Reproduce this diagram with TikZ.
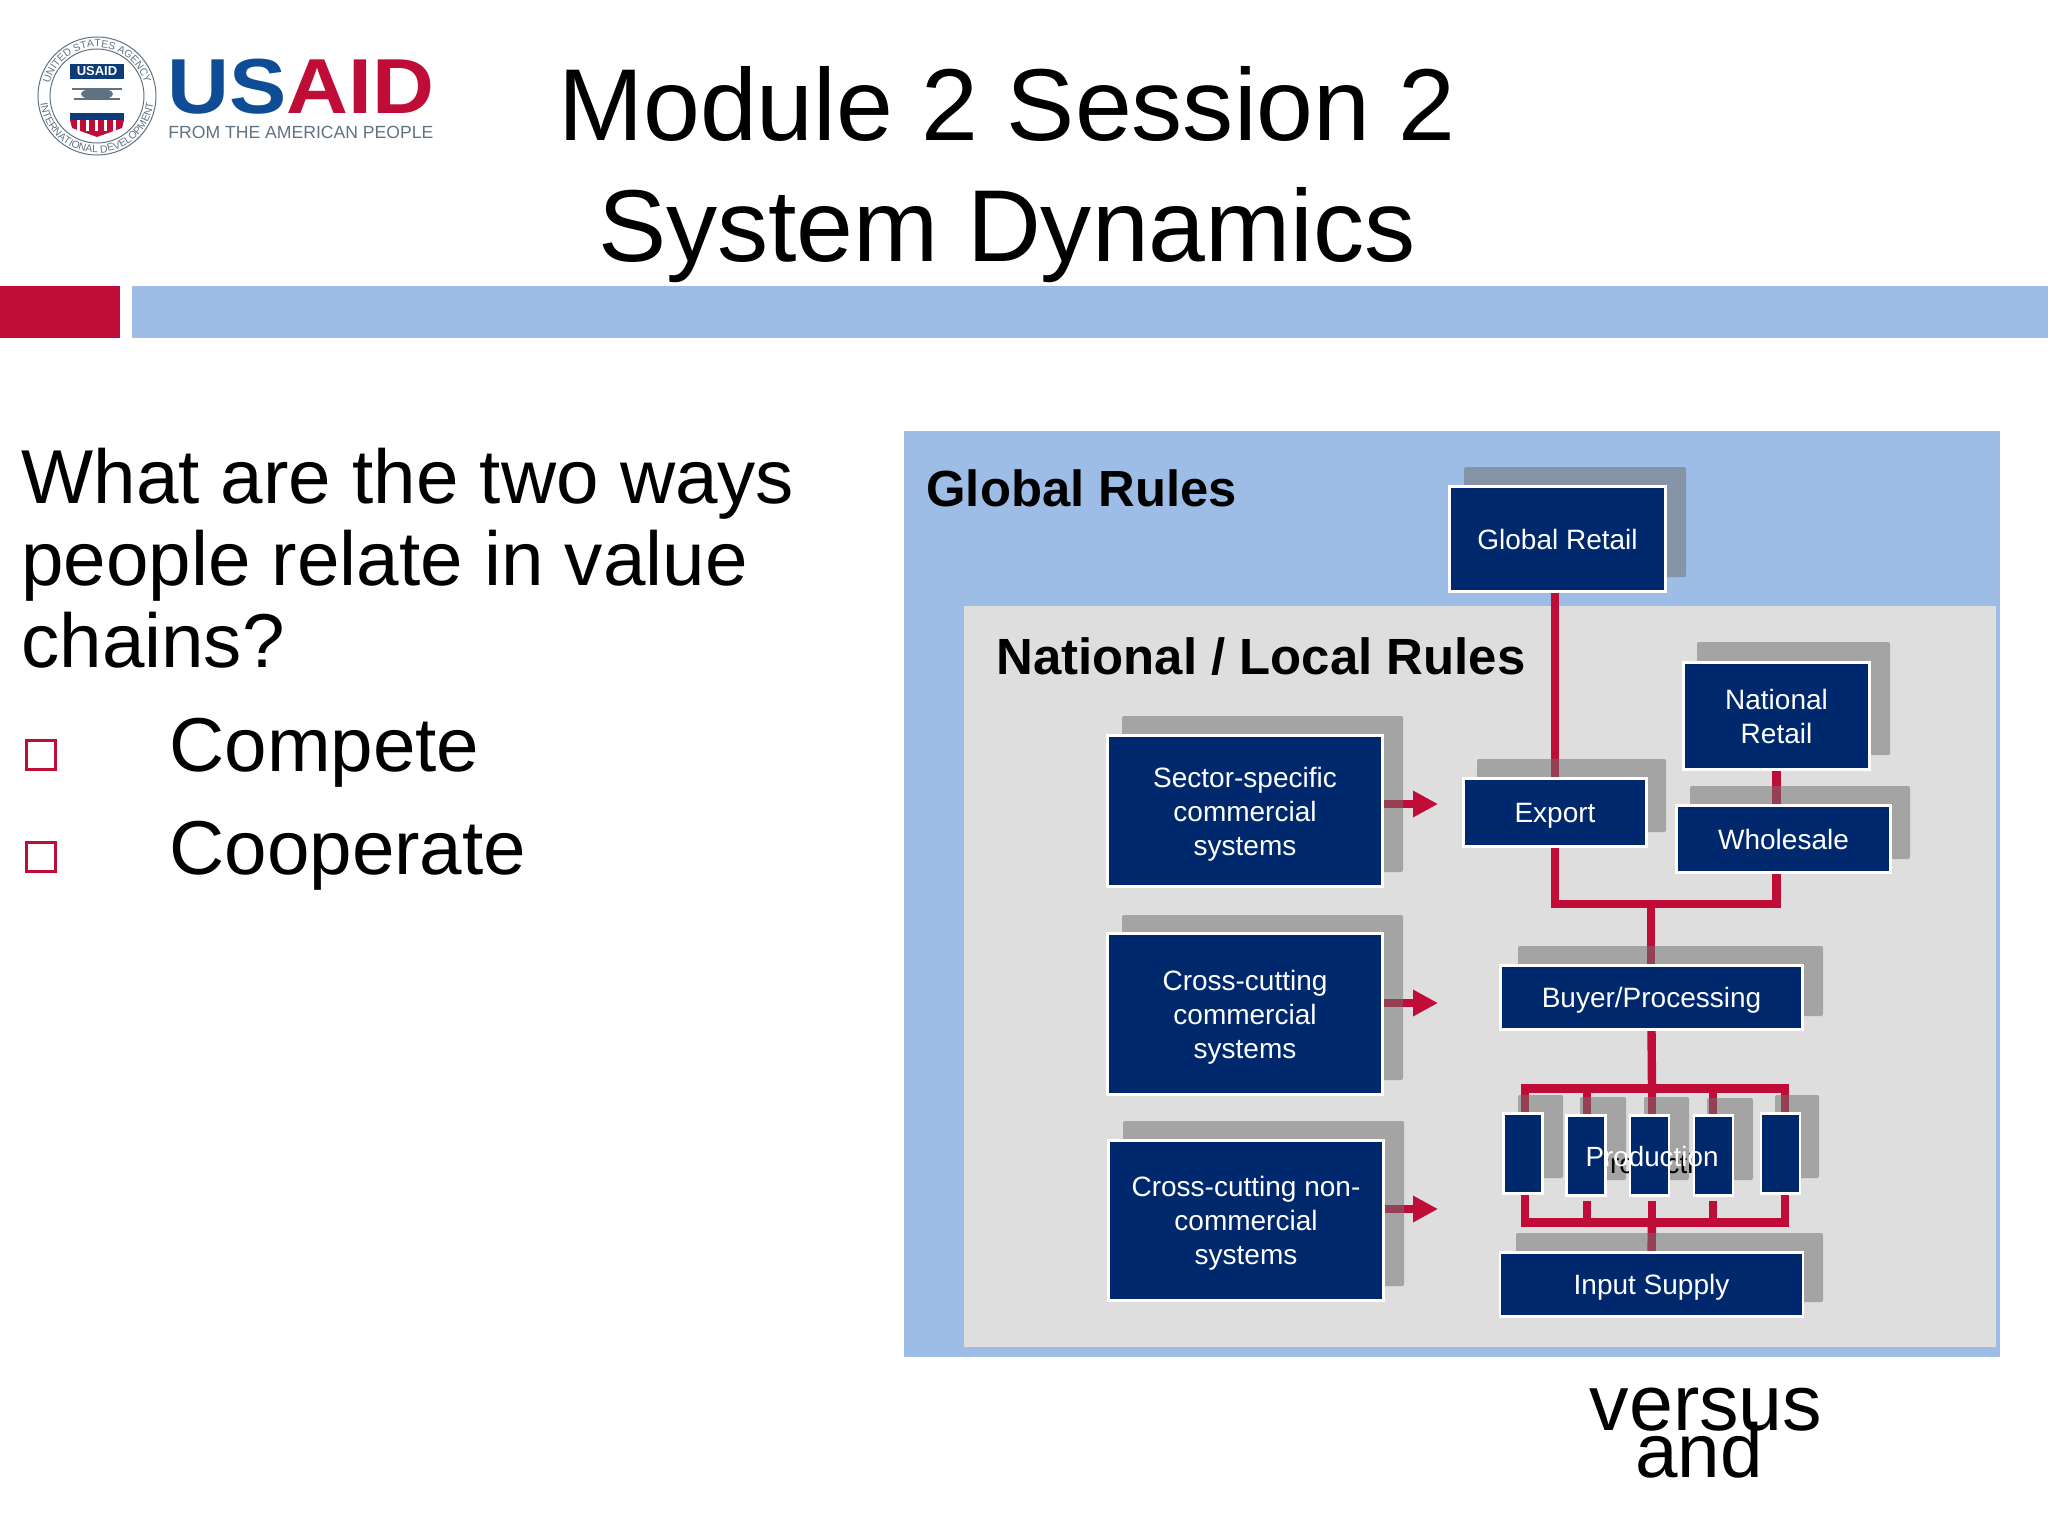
\documentclass[tikz,border=0pt]{standalone}
\usepackage{fontspec}
\setmainfont{Liberation Sans}
\usetikzlibrary{arrows.meta}
\usetikzlibrary{decorations.text}
\definecolor{navy}{HTML}{00296D}
\definecolor{usred}{HTML}{C00D38}
\definecolor{skyblue}{HTML}{9DBDE6}
\definecolor{panelgray}{HTML}{DFDEDF}
\definecolor{shadowgray}{HTML}{6F6F6F}
\definecolor{logoblue}{HTML}{0F4C96}
\definecolor{logogray}{HTML}{5F7282}
\pgfdeclarelayer{panels}
\pgfdeclarelayer{links}
\pgfdeclarelayer{shades}
\pgfsetlayers{panels,links,shades,main}
\newcommand{\sz}[2]{\fontsize{#1}{#2}\selectfont}
\tikzset{
 navybox/.style 2 args={draw=white, fill=navy, text=white, line width=1.4pt, inner sep=0pt,
  align=center, font=\sz{14}{17}, text depth=0pt, minimum width=#1*.5pt, minimum height=#2*.5pt},
 shadebox/.style 2 args={fill=shadowgray, opacity=.52, rounded corners=1pt, inner sep=0pt,
  minimum width=#1*.5pt, minimum height=#2*.5pt},
 redlink/.style={draw=usred, line width=4.2pt},
 redarrow/.style={redlink, -{Triangle[length=12.5pt,width=12.5pt]}},
 slidetext/.style={inner sep=0pt, text=black},
 tick/.style={draw=usred, line width=1.4pt, fill=white, minimum size=14.5pt, inner sep=0pt},
}
\begin{document}
\begin{tikzpicture}[x=.5pt, y=-.5pt]
        \useasboundingbox (0, 0) rectangle (2048, 1536);

        % logo
        \draw[logogray, line width=.5pt] (97, 96) circle[radius=59];
        \draw[logogray, line width=.5pt] (97, 96) circle[radius=47];
        \path[decorate, decoration={text along path, text align=center,
            text={|\sz{5.2}{6}\color{logogray}|UNITED STATES AGENCY}}]
            (97, 96) ++(160:49) arc[start angle=160, delta angle=220, radius=49];
        \path[decorate, decoration={text along path, text align=center,
            text={|\sz{5.2}{6}\color{logogray}|INTERNATIONAL DEVELOPMENT}}]
            (97, 96) ++(170:57) arc[start angle=170, delta angle=-160, radius=57];
        \node[fill=logoblue!80!black, text=white, font=\bfseries\sz{6.5}{7}, inner sep=0pt,
            minimum width=27pt, minimum height=7.5pt] (sealname) at (97, 71.5) {USAID};
        \draw[logogray, line width=.8pt] (72, 89) -- (122, 89) (74, 99) -- (120, 99);
        \fill[logogray] (97, 94) ellipse[x radius=16, y radius=6];
        \fill[logoblue!80!black] (70, 113) rectangle (124, 120);
        \fill[usred] (70, 120) -- (124, 120) -- (122, 128) -- (97, 137) -- (72, 128) -- cycle;
        \foreach \x in {77, 86, 95, 104, 113} {
            \fill[white] (\x, 120) rectangle (\x+3, 131);
        }
        \node[slidetext, anchor=base west, font=\bfseries\sz{39}{40}, xscale=1.1] (logoname) at (167, 113)
            {\textcolor{logoblue}{US}\textcolor{usred}{AID}};
        \node[slidetext, anchor=base west, font=\sz{8.8}{10}, text=logogray] (logotag) at (168, 139)
            {FROM THE AMERICAN PEOPLE};

        % title and banner
        \node[slidetext, align=center, font=\sz{51.1}{60.5}, anchor=north] (title) at (1007, 66)
            {Module 2 Session 2\\System Dynamics};
        \fill[usred] (0, 286) rectangle (120, 338);
        \fill[skyblue] (132, 286) rectangle (2048, 338);

        % left column
        \node[slidetext, align=left, font=\sz{38.2}{41}, anchor=north west] (question) at (21, 448)
            {What are the two ways\\people relate in value\\chains?};
        \node[tick] (tickone) at (41, 755) {};
        \node[tick] (ticktwo) at (41, 857) {};
        \node[slidetext, anchor=base west, font=\sz{38.2}{40}] (compete) at (169, 771) {Compete};
        \node[slidetext, anchor=base west, font=\sz{38.2}{40}] (cooperate) at (169, 874) {Cooperate};

        % panels
        \begin{pgfonlayer}{panels}
            \fill[skyblue] (904, 431) rectangle (2000, 1357);
            \fill[panelgray] (964, 606) rectangle (1996, 1347);
        \end{pgfonlayer}
        \node[slidetext, anchor=base west, font=\bfseries\sz{25.4}{28}] (globalrules) at (926, 506) {Global Rules};
        \node[slidetext, anchor=base west, font=\bfseries\sz{25.45}{28}] (localrules) at (996, 674) {National / Local Rules};

        % boxes
        \node[navybox={216}{105}] (gretail) at (1557.5, 539) {Global Retail};
        \node[navybox={183}{68}] (export) at (1555, 812.5) {Export};
        \node[navybox={186}{107}] (nretail) at (1776.5, 716) {National\\Retail};
        \node[navybox={214}{67}] (wholesale) at (1783.5, 839) {Wholesale};
        \node[navybox={275}{151}] (sector) at (1245, 811) {Sector-specific\\commercial\\systems};
        \node[navybox={275}{161}] (crossc) at (1245, 1014) {Cross-cutting\\commercial\\systems};
        \node[navybox={275}{160}] (crossn) at (1246, 1220.5) {Cross-cutting non-\\commercial\\systems};
        \node[navybox={302}{64}] (buyer) at (1651.5, 997.5) {Buyer/Processing};
        \node[navybox={303}{64}] (input) at (1651.5, 1284.5) {Input Supply};
        \foreach \i/\x/\y in {1/1523/1153.5, 2/1586/1155.5, 3/1649.5/1155.5, 4/1713.5/1155.5, 5/1780.5/1153.5} {
            \node[navybox={39}{80}] (prod\i) at (\x, \y) {};
        }
        \node[slidetext, font=\sz{13.9}{16}, text=white, anchor=base] (prodlabel) at (1652, 1166) {Production};

        % shadows, over the red lines
        \begin{pgfonlayer}{shades}
            \foreach \n/\x/\y/\w/\h in {gretail/1575/522/222/110, export/1571.5/795.5/189/73,
                nretail/1793.5/698.5/193/113, wholesale/1800/822.5/220/73,
                sector/1262.5/794/281/156, crossc/1262.5/997.5/281/165,
                crossn/1263.5/1203.5/281/165, buyer/1670.5/981/305/70,
                input/1669.5/1267.5/307/69, prod1/1540.5/1136.5/45/83,
                prod2/1603/1138.5/46/83, prod3/1666.5/1138.5/45/83,
                prod4/1730/1139/46/82, prod5/1797/1136.5/44/83} {
                \node[shadebox={\w}{\h}] (shade\n) at (\x, \y) {};
            }
            \node[slidetext, font=\sz{13.9}{16}, anchor=base] (prodshade) at (1658, 1173) {Production};
        \end{pgfonlayer}

        % connectors
        \begin{pgfonlayer}{links}
            \coordinate (trunk) at (1651, 904);
            \coordinate (tipa) at (1438, 804);
            \coordinate (tipb) at (1438, 1003);
            \coordinate (tipc) at (1438, 1209);
            \draw[redlink] (gretail.south -| export.north) -- (export.north);
            \draw[redlink] (nretail.south) -- (nretail.south |- wholesale.north);
            \draw[redlink] (export.south) |- (trunk) -| (nretail.south |- wholesale.south);
            \draw[redlink] (trunk) -- (trunk |- buyer.north);
            \draw[redarrow] (tipa -| sector.east) -- (tipa);
            \draw[redarrow] (tipb -| crossc.east) -- (tipb);
            \draw[redarrow] (tipc -| crossn.east) -- (tipc);
            \foreach \i/\x in {1/1525, 2/1587, 3/1652, 4/1713, 5/1785} {
                \coordinate (top\i) at (\x, 1088.5);
                \coordinate (low\i) at (\x, 1222.5);
            }
            \draw[redlink] (top1 |- prod1.north) -- (top1) -- (top5) -- (top5 |- prod5.north);
            \draw[redlink] (low1 |- prod1.south) -- (low1) -- (low5) -- (low5 |- prod5.south);
            \foreach \i in {2, 3, 4} {
                \draw[redlink] (top\i) -- (top\i |- prod\i.north);
                \draw[redlink, shorten >=2pt] (low\i) -- (low\i |- prod\i.south);
            }
            \draw[redlink] (buyer.south) -- (top3);
            \draw[redlink] (low3) -- (input.north);
        \end{pgfonlayer}

        % stray words under the panel
        \node[slidetext, font=\sz{39.5}{40}, anchor=base] (versus) at (1706, 1430) {versus};
        \node[slidetext, font=\sz{38.2}{40}, anchor=base] (andword) at (1699, 1477) {and};
    \end{tikzpicture}
\end{document}
